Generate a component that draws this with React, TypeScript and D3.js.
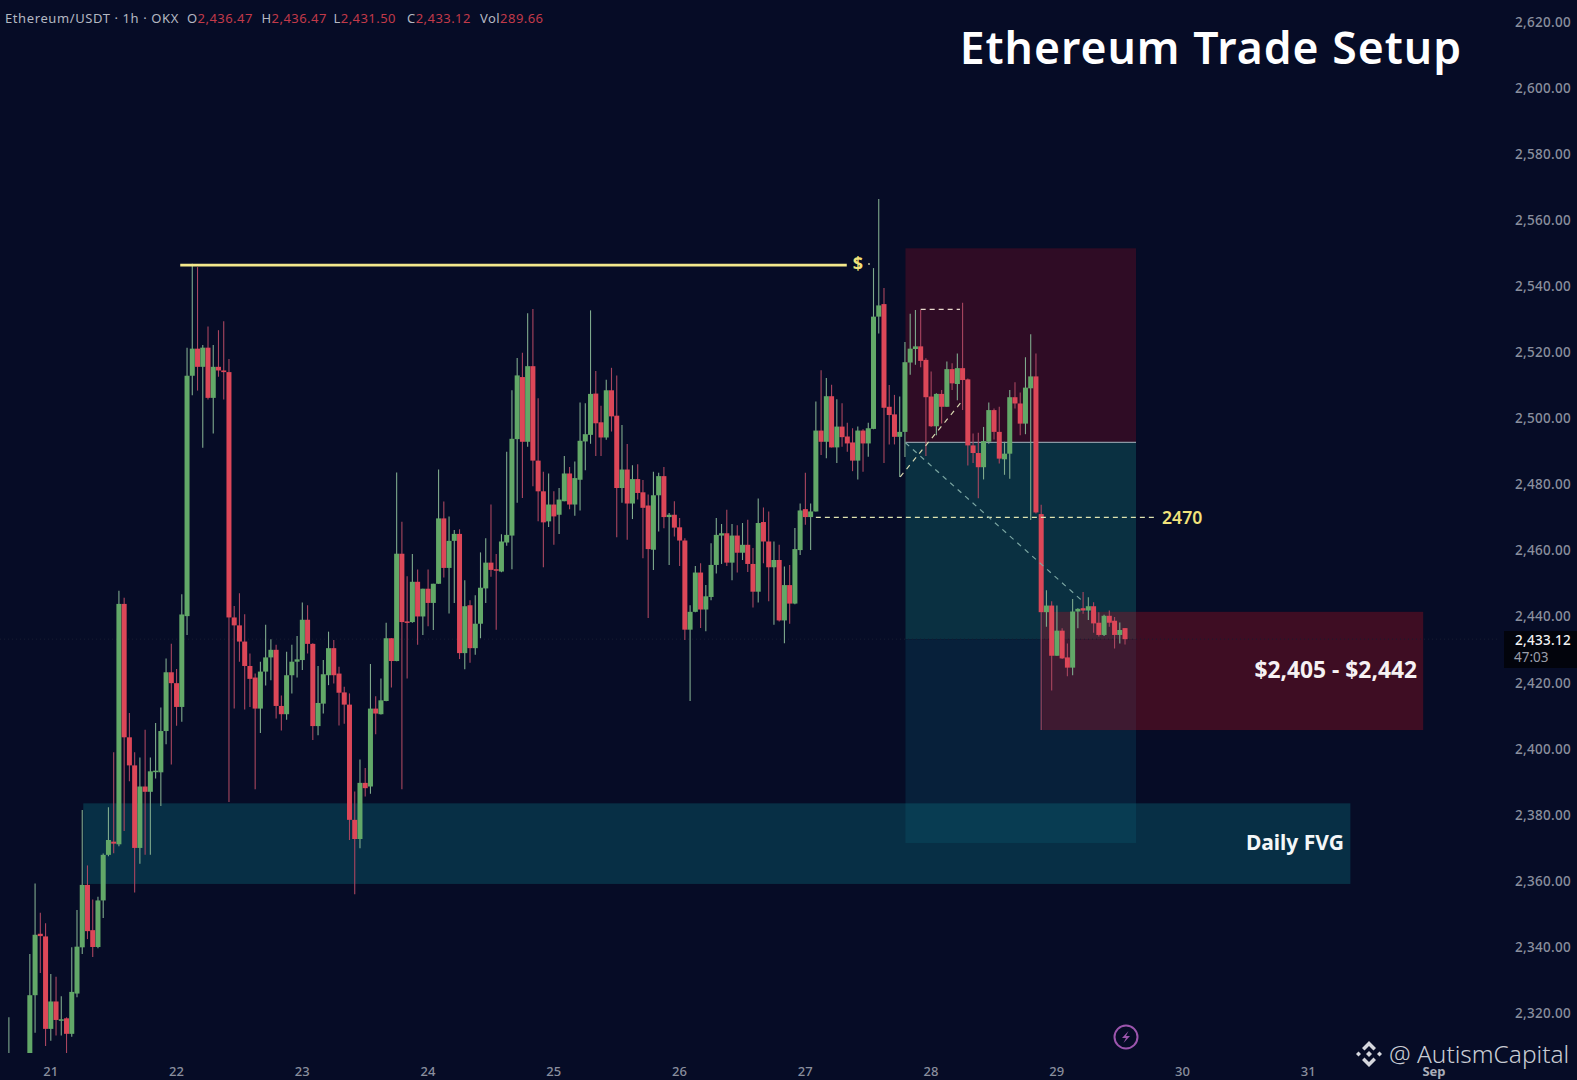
import React from "react";
import * as d3 from "d3";

// Each row: [open, high, low, close], hourly candles.
const day20: number[][] = [
  [2304,2318.6,2302,2306],[2300,2303,2298,2302],[2302,2304,2297,2300],[2300,2305,2298,2303],
  [2303,2337.8,2301,2325.3],[2325.3,2359.1,2313.9,2343.6],[2343.9,2350.3,2332,2343.2],[2343.1,2347.1,2309.9,2315.1],
];
const day21: number[][] = [
  [2315.1,2331.7,2311.5,2323.4],[2323.4,2330.9,2313.1,2317.8],[2317.6,2325,2313.1,2318],[2318.3,2318.6,2307.6,2313.6],
  [2313.6,2339.8,2312.7,2326.3],[2325.8,2351.1,2324.7,2340],[2339.8,2381.4,2337.8,2358.7],[2358.7,2364.6,2342.3,2344.7],
  [2345,2354.3,2336.9,2339.9],[2339.9,2355.1,2339.5,2354],[2354,2368.2,2348.7,2367.8],[2367.8,2382.2,2367.4,2372.3],
  [2371.8,2398.9,2368.3,2371.2],[2371,2447.8,2370.4,2443.8],[2443.8,2445.7,2375,2403.4],[2403.4,2410.8,2390.1,2394.9],
  [2394.9,2398.9,2356.4,2369.9],[2369.9,2397.3,2365.1,2388.5],[2388.5,2405.7,2367.8,2386.9],[2386.9,2397.3,2367.8,2393.1],
  [2392.9,2407.7,2390.9,2393.3],[2392.8,2412.4,2382.6,2405.3],[2405.3,2427.3,2401.3,2423.1],[2423.1,2431.7,2395.2,2419.8],
];
const day22: number[][] = [
  [2419.8,2424.1,2406.9,2412.6],[2412.6,2446.7,2408.1,2440.6],[2440.1,2521.4,2434.4,2512.9],[2512.9,2546.8,2507,2521.1],
  [2521.1,2545.8,2508.4,2515.6],[2515.6,2522.2,2491.1,2521.4],[2521.4,2527.8,2505.7,2506.2],[2506.2,2522.2,2495.4,2515.6],
  [2515.6,2526.7,2512.6,2514.5],[2514.5,2529.4,2505.7,2514],[2514,2518,2383.8,2439.7],[2439.7,2443.2,2412.1,2437.3],
  [2437.3,2447,2426.3,2432.4],[2432.4,2440.7,2411.8,2425],[2425,2428.8,2412.6,2421.1],[2421.5,2422.7,2387.7,2412.1],
  [2412.1,2426.3,2404.7,2423.3],[2423.3,2437.5,2419.1,2427.6],[2427.6,2433.1,2420.7,2429.9],[2429.9,2431.4,2409.1,2412.9],
  [2412.9,2416.1,2405.5,2410.4],[2410.4,2429.3,2408.7,2422.2],[2422.2,2431.4,2416.7,2426.3],[2426.3,2434.1,2421.5,2427],
];
const day23: number[][] = [
  [2426.8,2444.2,2423.8,2439],[2439,2443.4,2428.8,2431.7],[2431.7,2431.9,2402.6,2406.8],[2406.8,2425,2404,2413.8],
  [2413.6,2426.8,2410.6,2422.5],[2422.2,2435.4,2419.2,2430.4],[2430.4,2432.9,2419.7,2422.2],[2422.7,2424.8,2407,2416.9],
  [2417,2418.7,2407.5,2413.3],[2413.3,2416.7,2372.3,2378.4],[2378.4,2387,2355.9,2372.6],[2372.6,2396.7,2369.8,2389.6],
  [2389.6,2394.1,2385.5,2388],[2388.5,2425.6,2386.3,2412.1],[2412.1,2415.8,2404.3,2410.6],[2410.4,2421.2,2410.3,2414.6],
  [2414.4,2438.1,2414.3,2433.4],[2433.4,2433.5,2418.5,2426.5],[2426.5,2483.6,2426.4,2459],[2459,2468.7,2387.7,2438.3],
  [2438.5,2452.2,2421.2,2438.1],[2438.3,2458.9,2438.1,2450.5],[2450.5,2454.2,2431.4,2440],[2440,2448.4,2434.4,2448.4],
];
const day24: number[][] = [
  [2448.4,2454.2,2437,2444.1],[2444.1,2449.9,2435.9,2449.9],[2449.9,2484.5,2449.9,2469.7],[2469.7,2474.8,2451.8,2454.7],
  [2454.7,2470.3,2440.9,2462.9],[2462.9,2466.2,2444.1,2465],[2465,2466.4,2427.1,2428.9],[2428.9,2451,2424,2443.1],
  [2443.4,2444.9,2426,2430.4],[2430.4,2446.4,2428.4,2437.8],[2437.8,2459.4,2433.4,2448.7],[2448.5,2463.7,2444.1,2456.3],
  [2456.3,2473.9,2452,2454.1],[2454.3,2458.9,2436,2454.1],[2453.6,2464.9,2453.4,2462.7],[2462.4,2489.9,2461.4,2464.7],
  [2464.5,2508.5,2454.3,2493.8],[2493.7,2518.3,2474.4,2513],[2512.5,2519.9,2475.9,2492.9],[2492.9,2531.8,2491.4,2515.8],
  [2515.8,2533.1,2479.4,2487.2],[2487.2,2506.1,2468.8,2477.9],[2477.9,2483.8,2454.9,2468.5],[2468.8,2483.3,2467.1,2473.9],
];
const day25: number[][] = [
  [2473.9,2477.9,2461.7,2470.3],[2470.8,2478.9,2465,2475.4],[2474.9,2488.6,2474.9,2483.3],[2483.3,2485.3,2472.5,2473.9],
  [2473.9,2486.9,2470.5,2481.9],[2481.4,2504.8,2472.1,2493.2],[2493,2504.6,2484.3,2495.2],[2495,2532.7,2492.3,2507.4],
  [2507.5,2514.3,2488.6,2498.5],[2498.8,2503.8,2488.6,2494.2],[2494.2,2511.7,2493.5,2508.5],[2508.5,2515.3,2496,2500.6],
  [2500.8,2513,2464,2478.9],[2478.9,2498,2474.4,2484.5],[2484.5,2492.2,2463.2,2474.2],[2474.2,2485.8,2469.5,2481.6],
  [2481.6,2486.1,2475.4,2477.4],[2477.6,2481.3,2457.6,2472.9],[2473.6,2476.9,2439.5,2460.4],[2460.2,2483.8,2454.1,2476.7],
  [2476.7,2483.5,2465.7,2482.5],[2482.5,2485.3,2466.7,2470.1],[2470.1,2471.3,2455.6,2470.8],[2470.8,2474.9,2464.2,2466.9],
];
const day26: number[][] = [
  [2467,2469.8,2455.3,2463],[2463,2463.7,2432.9,2436],[2436,2443.4,2414.4,2441.4],[2441.4,2455.3,2441.3,2453.3],
  [2453.3,2456.1,2436.5,2442.1],[2442.1,2449.5,2435.5,2446.1],[2445.9,2462.2,2444.9,2455.6],[2455.6,2469.8,2453,2464.7],
  [2464.5,2468,2455.9,2465.2],[2465.2,2472.3,2455.3,2456.3],[2456.3,2468,2451,2464.5],[2464.5,2467.6,2453.3,2459.3],
  [2459.3,2468.3,2457.1,2461.7],[2461.7,2469.3,2453.5,2455.9],[2455.9,2460.7,2442.7,2447.5],[2447.5,2475.7,2444.2,2468.3],
  [2468.6,2473,2456.1,2462.7],[2462.7,2471.8,2444.6,2454.9],[2454.9,2462.7,2437.5,2457.1],[2457.1,2461.7,2438.5,2438.8],
  [2438.8,2455.1,2431.9,2449.5],[2449.5,2455.6,2437.8,2443.9],[2443.9,2466.8,2443.7,2460.4],[2460.1,2474.2,2458.6,2472.1],
];
const day27: number[][] = [
  [2472.5,2483.5,2467.8,2470.1],[2470.1,2474.2,2460.1,2471.8],[2471.8,2505.1,2471.8,2496.3],[2496.3,2514.6,2488.9,2492.9],
  [2492.9,2512.2,2487.9,2506.7],[2506.7,2510.2,2491.2,2491.2],[2491.2,2505.8,2486.5,2497.5],[2497.5,2504.6,2491.4,2494.3],
  [2494.5,2498.7,2489.9,2492.4],[2492.7,2497,2484,2487.2],[2487.2,2497.5,2481.5,2496.3],[2496.3,2496.7,2483.8,2492.4],
  [2492.4,2498.7,2488.4,2497],[2496.8,2545.5,2496.7,2530.8],[2530.8,2566.4,2525.7,2534.2],[2534.6,2539.5,2486.5,2503.2],
  [2503.5,2510.1,2492.1,2501],[2501.2,2507.1,2492.1,2494.4],[2494.4,2506.6,2482.2,2495.9],[2495.9,2523.1,2488.3,2517],
  [2516.9,2531.7,2513.2,2521.1],[2521,2532.8,2516.2,2521.8],[2521.8,2532.8,2515.5,2517.4],[2517.7,2518.2,2488.6,2506.4],
];
const day28: number[][] = [
  [2506.6,2514.2,2497.4,2497.6],[2497.6,2507.6,2494.9,2507.4],[2507.4,2508.6,2498.4,2503.5],[2503.5,2517.2,2503.5,2514.9],
  [2514.9,2516.7,2508.6,2510.6],[2510.4,2519.6,2505.5,2515.2],[2515.2,2535,2502.5,2511.6],[2511.8,2512.1,2485.7,2491.8],
  [2491.8,2495.4,2486.5,2489.5],[2489.5,2495.6,2475.8,2485.2],[2485.2,2497.4,2481.5,2493.1],[2492.9,2504.8,2492.3,2502.5],
  [2502.5,2503,2493.6,2495.9],[2495.9,2503.5,2486.3,2487.8],[2487.6,2492.9,2482.9,2489.3],[2489.3,2508.6,2481.7,2506.4],
  [2506.4,2510.9,2503,2504.5],[2504.5,2507.8,2494.9,2498.4],[2498.4,2518.5,2495.2,2509.3],[2509.1,2525.5,2469.2,2512.7],
  [2512.7,2519.6,2471.2,2471.5],[2471,2473.8,2405.6,2441.3],[2441.3,2447.9,2436.9,2443.3],[2443.3,2444.6,2417.6,2428.1],
];
const day29: number[][] = [
  [2428.1,2443.3,2428.1,2435.7],[2435.7,2436.4,2427.1,2427.3],[2427.6,2431.8,2421.9,2424.5],[2424.5,2445.3,2422.2,2441.5],
  [2441.5,2442.5,2436.4,2442.3],[2442.5,2447.4,2440.8,2441.8],[2441.8,2445.8,2438.9,2443.1],[2443.1,2444.3,2435.1,2437.9],
  [2438.1,2441.3,2433.9,2434.4],[2434.4,2440.5,2434.1,2440.2],[2440.2,2441.8,2436.9,2438.1],[2438.7,2439.8,2430.3,2434.4],
  [2434.4,2438.2,2431.8,2435.9],[2436.47,2436.47,2431.5,2433.12],
];

const firstHour = -8; // hours relative to the 21st, 00:00
const dayLabels = ["21","22","23","24","25","26","27","28","29","30","31","Sep"];
const priceTicks = [2320,2340,2360,2380,2400,2420,2440,2460,2480,2500,2520,2540,2560,2580,2600,2620];

const lastPrice = 2433.12;
const legendSpans = [
  { t: "O", v: "2,436.47", x: 187 },
  { t: "H", v: "2,436.47", x: 261.5 },
  { t: "L", v: "2,431.50", x: 333.5 },
  { t: "C", v: "2,433.12", x: 407 },
  { t: "Vol", v: "289.66", x: 480 },
];

// zones: [hourStart, hourEnd, priceTop, priceBottom]
const dailyFvg = [6.2, 248, 2383.4, 2359];
const stopZone = [163.1, 207.1, 2551.5, 2492.7];
const targetUpper = [163.1, 207.1, 2492.7, 2433.12];
const targetLower = [163.1, 207.1, 2433.12, 2371.4];
const supplyZone = [189.2, 261.9, 2441.4, 2405.6];
// lines: [hour1, price1, hour2, price2]
const yellowLine = [24.7, 2546.4, 151.9, 2546.4];
const line2470 = [146, 2470, 211, 2470];
const diagDown = [163.1, 2492.6, 197, 2444.5];
const diagUp = [162.1, 2482.3, 174.1, 2505.6];
const smallDash = [166, 2533, 173.5, 2533];

const x = d3.scaleLinear().domain([0, 264]).range([50.8, 1434.2]);
const y = d3.scaleLinear().domain([2320, 2620]).range([1012.7, 22.1]);
const dayX = d3.scaleLinear().domain([0, 11]).range([50.8, 1434]);
const fmt = d3.format(",.2f");

const candles = [day20, day21, day22, day23, day24, day25, day26, day27, day28, day29]
  .flat()
  .map((r, i) => ({ h: firstHour + i, o: r[0], hi: r[1], lo: r[2], c: r[3] }));

const UP = "#62a868";
const DOWN = "#dc4658";
const UPW = "#7ea98c";
const DOWNW = "#a8455f";
const AXIS = "#8a8f9e";
const FONT = "'Noto Sans', 'Open Sans', sans-serif";

function Zone({ z, fill }: { z: number[]; fill: string }) {
  return <rect x={x(z[0])} width={x(z[1]) - x(z[0])} y={y(z[2])} height={y(z[3]) - y(z[2])} fill={fill} />;
}
function Seg({ l, ...rest }: any) {
  return <line x1={x(l[0])} y1={y(l[1])} x2={x(l[2])} y2={y(l[3])} {...rest} />;
}

export default function App() {
  const paneBottom = 1053;
  const bw = 5;
  return (
    <svg width={1577} height={1080} style={{ position: "absolute", left: 0, top: 0, background: "#060c26" }} fontFamily={FONT}>
      <defs>
        <clipPath id="pane"><rect x={0} y={0} width={1500} height={paneBottom} /></clipPath>
        <filter id="soft"><feGaussianBlur stdDeviation="0.35" /></filter>
      </defs>

      <Zone z={stopZone} fill="#2f0c25" />
      <Zone z={targetUpper} fill="#0a3041" />
      <Zone z={targetLower} fill="#07203a" />
      <Zone z={dailyFvg} fill="rgba(12,115,130,0.35)" />
      <Zone z={supplyZone} fill="rgba(180,15,30,0.32)" />
      <line x1={x(stopZone[0])} x2={x(stopZone[1])} y1={y(stopZone[3])} y2={y(stopZone[3])} stroke="#8a98a4" strokeWidth={1.3} />
      <line x1={0} x2={1500} y1={y(lastPrice)} y2={y(lastPrice)} stroke="#181d32" strokeWidth={1} strokeDasharray="1 3" />

      <g clipPath="url(#pane)" filter="url(#soft)">
        {candles.map((d) => {
          const up = d.c >= d.o;
          const top = y(Math.max(d.o, d.c));
          const bot = y(Math.min(d.o, d.c));
          return (
            <g key={d.h}>
              <line x1={x(d.h)} x2={x(d.h)} y1={y(d.hi)} y2={y(d.lo)} stroke={up ? UPW : DOWNW} strokeWidth={1.1} />
              <rect x={x(d.h) - bw / 2} width={bw} y={top} height={Math.max(bot - top, 1.5)} fill={up ? UP : DOWN} />
            </g>
          );
        })}
      </g>

      <Seg l={yellowLine} stroke="#f4e98c" strokeWidth={2.8} />
      <text x={858} y={270} fill="#f0e27a" fontSize={18} fontWeight={700} textAnchor="middle">$</text>
      <circle cx={869} cy={264} r={0.9} fill="#c9c9a0" />
      <Seg l={line2470} stroke="#dfe3b0" strokeWidth={1.1} strokeDasharray="5 4" />
      <text x={1162} y={524} fill="#f1e27a" fontSize={17.6} fontWeight={600}>2470</text>
      <Seg l={diagDown} stroke="#7ba6a2" strokeWidth={1.2} strokeDasharray="5 5" />
      <Seg l={diagUp} stroke="#d8d8b0" strokeWidth={1.2} strokeDasharray="5 5" />
      <Seg l={smallDash} stroke="#ead9cc" strokeWidth={1.1} strokeDasharray="5 4" />

      <text x={1462} y={63.5} fill="#fff" fontSize={44.5} fontWeight={600} textAnchor="end" letterSpacing={1}>Ethereum Trade Setup</text>
      <text x={1417} y={678} fill="#f6f1f3" fontSize={22.8} fontWeight={700} textAnchor="end">$2,405 - $2,442</text>
      <text x={1344} y={849.5} fill="#f4f7f8" fontSize={21} fontWeight={700} textAnchor="end">Daily FVG</text>

      <text x={5} y={22.5} fill="#b4b8c2" fontSize={13} letterSpacing={0.6}>Ethereum/USDT · 1h · OKX</text>
      {legendSpans.map((s) => (
        <text key={s.t} x={s.x} y={22.5} fontSize={13} letterSpacing={0.45} fill="#b4b8c2">
          {s.t}<tspan fill="#c23a4a">{s.v}</tspan>
        </text>
      ))}

      {priceTicks.map((p) => (
        <text key={p} x={1571} y={y(p) + 5} fill={AXIS} fontSize={13.5} letterSpacing={0.3} fontWeight={500} textAnchor="end">{fmt(p)}</text>
      ))}
      <rect x={1504} y={631} width={73} height={37} fill="#02040c" />
      <text x={1571} y={645} fill="#f2f3f5" fontSize={13.5} letterSpacing={0.3} fontWeight={500} textAnchor="end">{fmt(lastPrice)}</text>
      <text x={1514} y={662} fill="#9a9eaa" fontSize={13.5}>47:03</text>

      {dayLabels.map((d, i) => (
        <text key={d} x={dayX(i)} y={1075.5} fill={d === "Sep" ? "#a9adb8" : AXIS} fontSize={13} fontWeight={d === "Sep" ? 700 : 500} textAnchor="middle">{d}</text>
      ))}

      <g transform="translate(1126,1037)">
        <circle r={11.5} fill="none" stroke="#9c55ad" strokeWidth={2} />
        <path d="M2.5,-6 L-4,1 L0,1 L-2.5,6 L4,-1 L0,-1 Z" fill="#9c55ad" />
      </g>
      <g transform="translate(1369,1054)" fill="#d5d7dd">
        <path d="M0,-13 L7,-6 L4.5,-3.5 L0,-8 L-4.5,-3.5 L-7,-6 Z" />
        <path d="M0,13 L7,6 L4.5,3.5 L0,8 L-4.5,3.5 L-7,6 Z" />
        <path d="M-10.5,-2.5 L-8,0 L-10.5,2.5 L-13,0 Z" />
        <path d="M10.5,-2.5 L13,0 L10.5,2.5 L8,0 Z" />
        <path d="M0,-3 L3,0 L0,3 L-3,0 Z" />
      </g>
      <text x={1389} y={1063} fill="#c9ccd4" fontSize={24.4} fontWeight={300}>@ AutismCapital</text>
    </svg>
  );
}
